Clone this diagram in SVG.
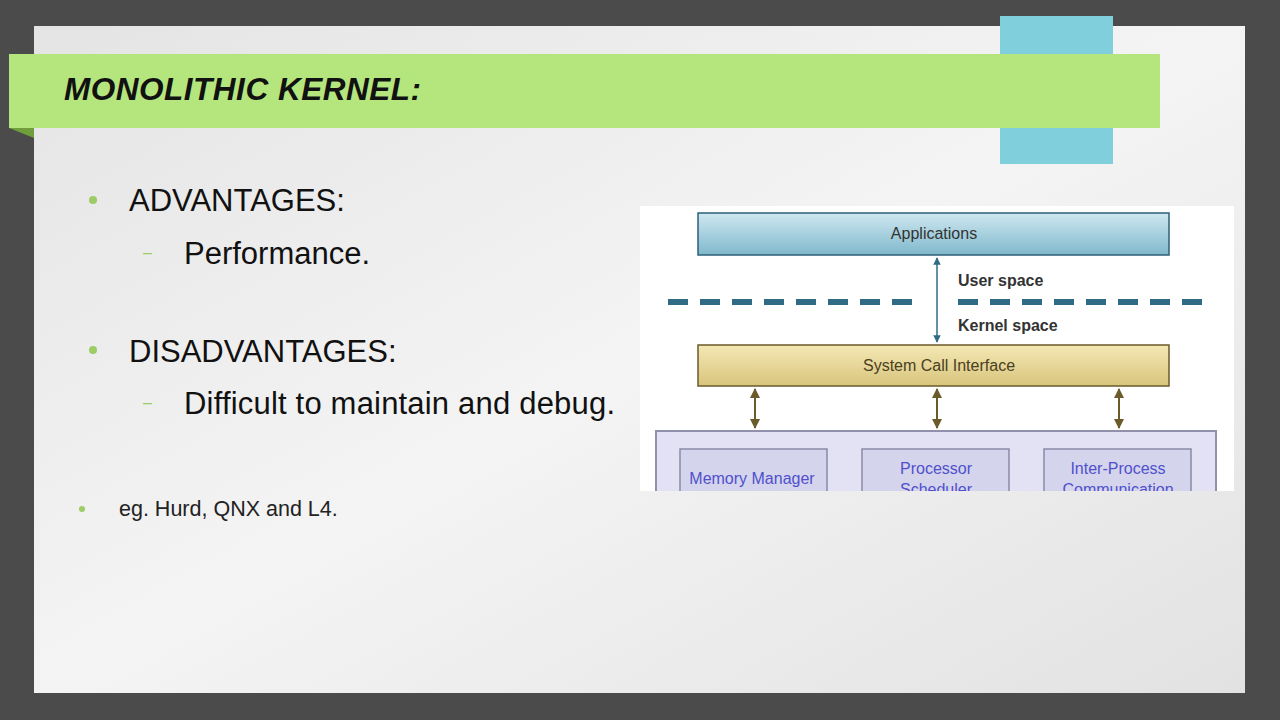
<svg xmlns="http://www.w3.org/2000/svg" width="1280" height="720" viewBox="0 0 1280 720">
<defs>
<linearGradient id="slide" x1="0" y1="0" x2="1" y2="1"><stop offset="0" stop-color="#e4e4e4"/><stop offset="0.5" stop-color="#f4f4f4"/><stop offset="1" stop-color="#e2e2e2"/></linearGradient>
<linearGradient id="app" x1="0" y1="0" x2="0" y2="1"><stop offset="0" stop-color="#cfe8f0"/><stop offset="1" stop-color="#7fb8cc"/></linearGradient>
<linearGradient id="sci" x1="0" y1="0" x2="0" y2="1"><stop offset="0" stop-color="#f4e8b4"/><stop offset="1" stop-color="#d8c47c"/></linearGradient>
<clipPath id="clip"><rect x="640" y="206" width="594" height="285"/></clipPath>
<marker id="ab" viewBox="0 0 10 10" refX="9" refY="5" markerWidth="5" markerHeight="5" orient="auto-start-reverse"><path d="M0,0L10,5L0,10z" fill="#2f6b84"/></marker>
<marker id="ao" viewBox="0 0 10 10" refX="9" refY="5" markerWidth="5" markerHeight="5" orient="auto-start-reverse"><path d="M0,0L10,5L0,10z" fill="#6b5a2a"/></marker>
<style>
text{font-family:"Liberation Sans",Arial,sans-serif}
.b{font-size:31px;fill:#111}
.dot{fill:#9ccc65}
.d{font-family:"Liberation Sans Narrow","Liberation Sans",sans-serif;font-size:16px}
.sub{fill:#d4d4ec;stroke:#8a8aa8;stroke-width:1.5}
</style>
</defs>
<rect width="1280" height="720" fill="#4b4b4b"/>
<rect x="34" y="26" width="1211" height="667" fill="url(#slide)"/>
<rect x="1000" y="16" width="113" height="148" fill="#7fd0dc"/>
<polygon points="9,128 34,128 34,138" fill="#6f9e3a"/>
<rect x="9" y="54" width="1151" height="74" fill="#b5e67e"/>
<text x="64" y="100" font-size="31.5" font-weight="bold" font-style="italic" fill="#111" textLength="357">MONOLITHIC KERNEL:</text>
<circle cx="93" cy="200" r="4" class="dot"/>
<text x="129" y="211" class="b">ADVANTAGES:</text>
<text x="143" y="258" font-size="16" fill="#9ccc65">–</text>
<text x="184" y="264" class="b">Performance.</text>
<circle cx="93" cy="350" r="4" class="dot"/>
<text x="129" y="362" class="b">DISADVANTAGES:</text>
<text x="143" y="408" font-size="16" fill="#9ccc65">–</text>
<text x="184" y="414" class="b" textLength="431">Difficult to maintain and debug.</text>
<circle cx="82" cy="509" r="3" class="dot"/>
<text x="119" y="516" font-size="21.5" fill="#222">eg. Hurd, QNX and L4.</text>
<g id="diagram" clip-path="url(#clip)">
<rect x="640" y="206" width="594" height="285" fill="#fff"/>
<g id="applications"><rect x="698" y="213" width="471" height="42" fill="url(#app)" stroke="#2c5f78" stroke-width="1.5"/><text x="934" y="239" text-anchor="middle" class="d" fill="#333">Applications</text></g>
<g id="syscall"><rect x="698" y="345" width="471" height="41" fill="url(#sci)" stroke="#6b5a2a" stroke-width="1.5"/><text x="939" y="371" text-anchor="middle" class="d" fill="#4a4020">System Call Interface</text></g>
<g id="kernel"><rect x="656" y="431" width="560" height="80" fill="#e2e2f4" stroke="#9090aa" stroke-width="2"/>
<rect x="680" y="449" width="147" height="60" class="sub"/><text x="752" y="484" text-anchor="middle" class="d" fill="#5050cc">Memory Manager</text>
<rect x="862" y="449" width="147" height="60" class="sub"/><text x="936" y="474" text-anchor="middle" class="d" fill="#5050cc">Processor</text><text x="936" y="495" text-anchor="middle" class="d" fill="#5050cc">Scheduler</text>
<rect x="1044" y="449" width="147" height="60" class="sub"/><text x="1118" y="474" text-anchor="middle" class="d" fill="#5050cc">Inter-Process</text><text x="1118" y="495" text-anchor="middle" class="d" fill="#5050cc">Communication</text>
</g>
<text x="958" y="286" font-size="16" font-weight="bold" fill="#333">User space</text>
<text x="958" y="331" font-size="16" font-weight="bold" fill="#333">Kernel space</text>
</g>
<g id="connectors">
<line x1="668" y1="302" x2="912" y2="302" stroke="#2f6b84" stroke-width="6" stroke-dasharray="20 12"/>
<line x1="958" y1="302" x2="1204" y2="302" stroke="#2f6b84" stroke-width="6" stroke-dasharray="20 12"/>
<line x1="937" y1="258" x2="937" y2="342" stroke="#2f6b84" stroke-width="1.5" marker-start="url(#ab)" marker-end="url(#ab)"/>
<line x1="755" y1="389" x2="755" y2="428" stroke="#6b5a2a" stroke-width="2" marker-start="url(#ao)" marker-end="url(#ao)"/>
<line x1="937" y1="389" x2="937" y2="428" stroke="#6b5a2a" stroke-width="2" marker-start="url(#ao)" marker-end="url(#ao)"/>
<line x1="1119" y1="389" x2="1119" y2="428" stroke="#6b5a2a" stroke-width="2" marker-start="url(#ao)" marker-end="url(#ao)"/>
</g>
</svg>
